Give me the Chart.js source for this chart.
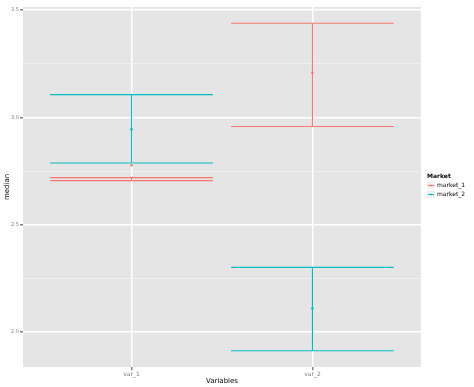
<!DOCTYPE html>
<html>
<head>
<meta charset="utf-8">
<script src="https://cdn.jsdelivr.net/npm/chart.js@4"></script>
<style>
  html, body { margin: 0; padding: 0; background: #ffffff; }
  #wrap { width: 474px; height: 387px; position: relative; }
</style>
</head>
<body>
<div id="wrap"><canvas id="chart"></canvas></div>
<script>
// values
const categories = ['var_1', 'var_2'];
const seriesNames = ['market_1', 'market_2'];
const market1Median = [2.777, 3.208];
const market1Lower = [2.705, 2.957];
const market1Upper = [2.719, 3.438];
const market2Median = [2.944, 2.110];
const market2Lower = [2.787, 1.913];
const market2Upper = [3.106, 2.301];
const yMajorTicks = [2.0, 2.5, 3.0, 3.5];
const yMinorTicks = [2.25, 2.75, 3.25];

const colors = ['#F8766D', '#00BFC4'];
const barHalfWidth = 0.45; // errorbar width 0.9 category units

const seriesData = [
  { median: market1Median, lower: market1Lower, upper: market1Upper },
  { median: market2Median, lower: market2Lower, upper: market2Upper }
];

// median points, one dataset per market
const datasets = seriesData.map((s, i) => ({
  label: seriesNames[i],
  data: categories.map((c, j) => ({ x: j + 1, y: s.median[j] })),
  lower: s.lower,
  upper: s.upper,
  showLine: false,
  pointRadius: 1.3,
  pointHoverRadius: 1.3,
  backgroundColor: colors[i],
  borderColor: colors[i],
  borderWidth: 0
}));

// errorbars drawn through the chart scales
const errorBarPlugin = {
  id: 'errorBars',
  beforeDatasetsDraw(chart) {
    const ctx = chart.ctx;
    const xs = chart.scales.x;
    const ys = chart.scales.y;
    ctx.save();
    chart.data.datasets.forEach((ds) => {
      ctx.strokeStyle = ds.borderColor;
      ctx.lineWidth = 1.1;
      ds.data.forEach((pt, j) => {
        const xc = xs.getPixelForValue(pt.x);
        const xl = xs.getPixelForValue(pt.x - barHalfWidth);
        const xr = xs.getPixelForValue(pt.x + barHalfWidth);
        const yl = ys.getPixelForValue(ds.lower[j]);
        const yu = ys.getPixelForValue(ds.upper[j]);
        ctx.beginPath();
        ctx.moveTo(xl, yu); ctx.lineTo(xr, yu);
        ctx.moveTo(xc, yu); ctx.lineTo(xc, yl);
        ctx.moveTo(xl, yl); ctx.lineTo(xr, yl);
        ctx.stroke();
      });
    });
    ctx.restore();
  }
};

// grey panel behind the grid
const panelPlugin = {
  id: 'panel',
  beforeDraw(chart) {
    const a = chart.chartArea;
    const ctx = chart.ctx;
    ctx.save();
    ctx.fillStyle = '#E5E5E5';
    ctx.fillRect(a.left, a.top, a.right - a.left, a.bottom - a.top);
    ctx.restore();
  }
};

// ggplot style legend at the right
const legendPlugin = {
  id: 'ggLegend',
  afterDraw(chart) {
    const ctx = chart.ctx;
    ctx.save();
    ctx.fillStyle = '#000000';
    ctx.font = 'bold 6px "DejaVu Sans", sans-serif';
    ctx.textBaseline = 'middle';
    ctx.fillText('Market', 427, 176);
    chart.data.datasets.forEach((ds, i) => {
      const y = 185 + i * 9;
      ctx.fillStyle = '#F2F2F2';
      ctx.fillRect(427, y - 4, 8, 8);
      ctx.strokeStyle = ds.borderColor;
      ctx.lineWidth = 1;
      ctx.beginPath();
      ctx.moveTo(428, y + 0.5); ctx.lineTo(434, y + 0.5);
      ctx.stroke();
      ctx.fillStyle = ds.borderColor;
      ctx.beginPath();
      ctx.arc(431, y + 0.5, 1, 0, Math.PI * 2);
      ctx.fill();
      ctx.fillStyle = '#000000';
      ctx.font = '6px "DejaVu Sans", sans-serif';
      ctx.fillText(ds.label, 437, y);
    });
    ctx.restore();
  }
};

const allYTicks = yMajorTicks.concat(yMinorTicks).sort((a, b) => a - b);
const isMajor = (v) => yMajorTicks.some(t => Math.abs(t - v) < 1e-9);

new Chart(document.getElementById('chart'), {
  type: 'scatter',
  data: { datasets: datasets },
  options: {
    responsive: true,
    maintainAspectRatio: false,
    animation: false,
    layout: { padding: { top: 7, right: 53, left: 0, bottom: 0 } },
    plugins: {
      legend: { display: false },
      tooltip: { enabled: false }
    },
    scales: {
      x: {
        type: 'linear',
        min: 0.4,
        max: 2.6,
        afterBuildTicks: (scale) => {
          scale.ticks = categories.map((c, i) => ({ value: i + 1 }));
        },
        afterFit: (scale) => { scale.height = 20; },
        ticks: {
          callback: (v) => categories[Math.round(v) - 1],
          color: '#7F7F7F',
          font: { size: 6, family: '"DejaVu Sans", sans-serif' },
          padding: 1,
          maxRotation: 0
        },
        grid: {
          color: '#FFFFFF',
          lineWidth: 1.5,
          drawTicks: true,
          tickLength: 3,
          tickColor: '#7F7F7F'
        },
        border: { display: false },
        title: {
          display: true,
          text: 'Variables',
          color: '#000000',
          font: { size: 7, family: '"DejaVu Sans", sans-serif' },
          padding: { top: 0, bottom: 2 }
        }
      },
      y: {
        type: 'linear',
        min: 1.837,
        max: 3.514,
        afterBuildTicks: (scale) => {
          scale.ticks = allYTicks.map(v => ({ value: v }));
        },
        afterFit: (scale) => { scale.width = 23; },
        ticks: {
          autoSkip: false,
          callback: (v) => isMajor(v) ? v.toFixed(1) : '',
          color: '#7F7F7F',
          font: { size: 5, family: '"DejaVu Sans", sans-serif' },
          padding: 1
        },
        grid: {
          color: (c) => isMajor(c.tick.value) ? '#FFFFFF' : '#F2F2F2',
          lineWidth: (c) => isMajor(c.tick.value) ? 1.5 : 0.8,
          drawTicks: true,
          tickLength: 3,
          tickColor: (c) => isMajor(c.tick.value) ? '#7F7F7F' : 'rgba(0,0,0,0)'
        },
        border: { display: false },
        title: {
          display: true,
          text: 'median',
          color: '#000000',
          font: { size: 7, family: '"DejaVu Sans", sans-serif' },
          padding: { top: 3, bottom: 0 }
        }
      }
    }
  },
  plugins: [panelPlugin, errorBarPlugin, legendPlugin]
});
</script>
</body>
</html>
